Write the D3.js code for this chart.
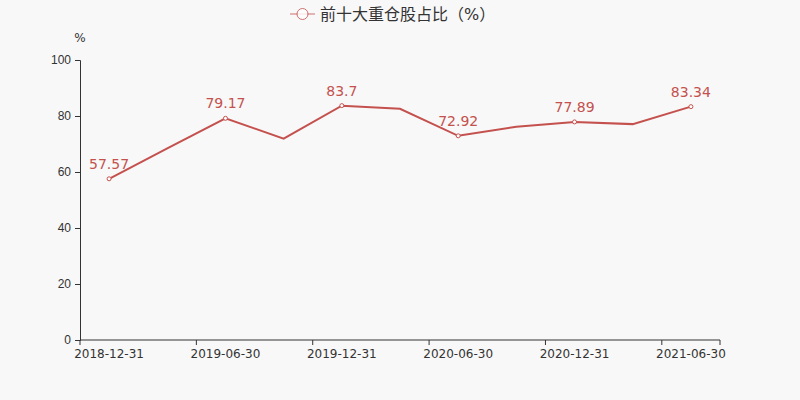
<!DOCTYPE html>
<html>
<head>
<meta charset="utf-8">
<title>前十大重仓股占比</title>
<script src="https://cdn.jsdelivr.net/npm/d3@7/dist/d3.min.js"></script>
<style>
  body { margin: 0; background: #f8f8f8; }
  svg { font-family: "DejaVu Sans", "Noto Sans CJK SC", sans-serif; }
  .axis text { fill: #333; font-size: 12px; }
  .axis path, .axis line { stroke: #333; }
</style>
</head>
<body>
<script>
// data
var dates = ["2018-12-31", "2019-03-31", "2019-06-30", "2019-09-30", "2019-12-31",
             "2020-03-31", "2020-06-30", "2020-09-30", "2020-12-31", "2021-03-31", "2021-06-30"];
var shares = [57.57, 68.4, 79.17, 71.9, 83.7, 82.6, 72.92, 76.2, 77.89, 77.1, 83.34];
var shownLabels = ["2018-12-31", "2019-06-30", "2019-12-31", "2020-06-30", "2020-12-31", "2021-06-30"];
var yTicks = [0, 20, 40, 60, 80, 100];
var seriesName = "前十大重仓股占比（%）";

var w = 800, h = 400;
var margin = {top: 60, right: 80, bottom: 60, left: 80};
var width = w - margin.left - margin.right;
var height = h - margin.top - margin.bottom;
var red = "#c4514d";

var svg = d3.select("body").append("svg")
    .attr("width", w)
    .attr("height", h);

svg.append("rect").attr("width", w).attr("height", h).attr("fill", "#f8f8f8");

var g = svg.append("g")
    .attr("transform", "translate(" + margin.left + "," + margin.top + ")");

var x = d3.scaleBand().domain(dates).range([0, width]);
var y = d3.scaleLinear().domain([0, 100]).range([height, 0]);

// y axis
var yAxis = d3.axisLeft(y).tickValues(yTicks).tickSize(5).tickPadding(4);
g.append("g").attr("class", "axis").call(yAxis);

g.append("text")
    .attr("x", 0).attr("y", -18)
    .attr("text-anchor", "middle")
    .attr("fill", "#333")
    .style("font-size", "12px")
    .text("%");

// x axis: ticks on every other category boundary, plus the end
var xg = g.append("g").attr("class", "axis")
    .attr("transform", "translate(0," + height + ")");
xg.append("line").attr("x1", 0).attr("x2", width).attr("stroke", "#333");
var tickPos = dates.filter(function(d, i) { return i % 2 === 0; }).map(function(d) { return x(d); });
tickPos.push(width);
xg.selectAll(".tk").data(tickPos).enter().append("line")
    .attr("class", "tk")
    .attr("x1", function(d) { return d; }).attr("x2", function(d) { return d; })
    .attr("y1", 0).attr("y2", 5)
    .attr("stroke", "#333");
xg.selectAll(".lb").data(shownLabels).enter().append("text")
    .attr("class", "lb")
    .attr("x", function(d) { return x(d) + x.bandwidth() / 2; })
    .attr("y", 18)
    .attr("text-anchor", "middle")
    .text(function(d) { return d; });

// line
var pts = dates.map(function(d, i) { return {date: d, v: shares[i]}; });
var line = d3.line()
    .x(function(d) { return x(d.date) + x.bandwidth() / 2; })
    .y(function(d) { return y(d.v); });

g.append("path").datum(pts)
    .attr("d", line)
    .attr("fill", "none")
    .attr("stroke", red)
    .attr("stroke-width", 2);

var labeled = pts.filter(function(d) { return shownLabels.indexOf(d.date) >= 0; });

g.selectAll(".dot").data(labeled).enter().append("circle")
    .attr("class", "dot")
    .attr("cx", function(d) { return x(d.date) + x.bandwidth() / 2; })
    .attr("cy", function(d) { return y(d.v); })
    .attr("r", 2)
    .attr("fill", "#fff")
    .attr("stroke", red)
    .attr("stroke-width", 1);

g.selectAll(".val").data(labeled).enter().append("text")
    .attr("class", "val")
    .attr("x", function(d) { return x(d.date) + x.bandwidth() / 2; })
    .attr("y", function(d) { return y(d.v) - 10; })
    .attr("text-anchor", "middle")
    .attr("fill", red)
    .style("font-size", "14px")
    .text(function(d) { return d.v; });

// legend
var lg = svg.append("g").attr("transform", "translate(290,14)");
lg.append("line").attr("x1", 0).attr("x2", 25).attr("y1", 0).attr("y2", 0)
    .attr("stroke", red).attr("stroke-width", 1).attr("opacity", 0.8);
lg.append("circle").attr("cx", 12.5).attr("cy", 0).attr("r", 5.5)
    .attr("fill", "#fff").attr("stroke", red).attr("stroke-width", 1).attr("opacity", 0.8);
lg.append("text").attr("x", 30).attr("y", 6)
    .attr("fill", "#333")
    .style("font-size", "16px")
    .text(seriesName);
</script>
</body>
</html>
